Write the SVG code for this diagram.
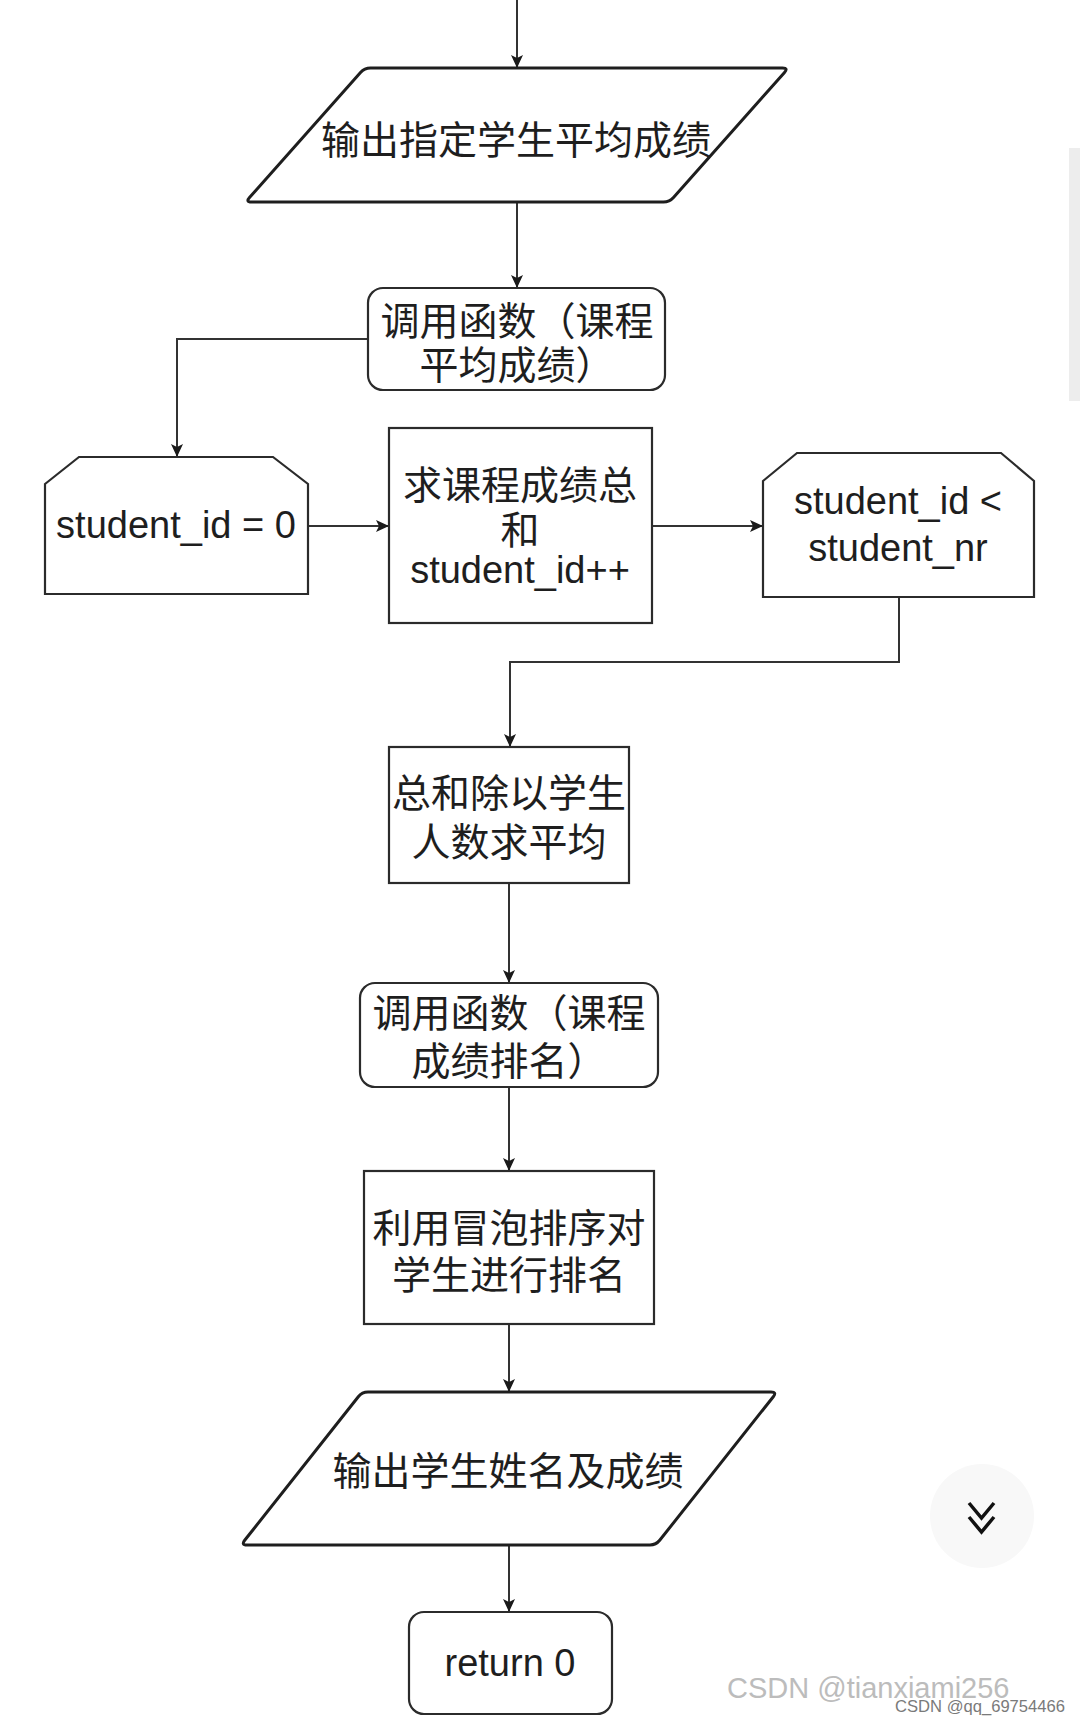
<svg xmlns="http://www.w3.org/2000/svg" width="1080" height="1724" viewBox="0 0 1080 1724">
<defs>
<style>
.node{fill:#fff;stroke:#2b2b2b;stroke-width:2.2}
.para{fill:#fff;stroke:#1e1e1e;stroke-width:3}
.edge{fill:none;stroke:#333;stroke-width:2}
.cjk{font-family:"Noto Sans CJK SC","Liberation Sans",sans-serif;font-size:39px;fill:#1e1e1e;text-anchor:middle;dominant-baseline:central}
.lat{font-family:"Liberation Sans","Noto Sans CJK SC",sans-serif;font-size:38px;fill:#1e1e1e;text-anchor:middle}
</style>
<marker id="arr" markerUnits="userSpaceOnUse" markerWidth="14" markerHeight="14" refX="13" refY="7" orient="auto">
<path d="M0,1 L13,7 L0,13 L3,7 Z" fill="#1a1a1a"/>
</marker>
</defs>
<rect width="1080" height="1724" fill="#fff"/>

<g id="connectors">
<path class="edge" d="M517,0 L517,68" marker-end="url(#arr)"/>
<path class="edge" d="M517,202 L517,288" marker-end="url(#arr)"/>
<path class="edge" d="M368,339 L177,339 L177,457" marker-end="url(#arr)"/>
<path class="edge" d="M308,526 L389,526" marker-end="url(#arr)"/>
<path class="edge" d="M652,526 L763,526" marker-end="url(#arr)"/>
<path class="edge" d="M899,597 L899,662 L510,662 L510,747" marker-end="url(#arr)"/>
<path class="edge" d="M509,883 L509,983" marker-end="url(#arr)"/>
<path class="edge" d="M509,1087 L509,1171" marker-end="url(#arr)"/>
<path class="edge" d="M509,1324 L509,1392" marker-end="url(#arr)"/>
<path class="edge" d="M509,1545 L509,1612" marker-end="url(#arr)"/>
</g>

<g id="node-output-avg">
<path class="para" d="M370.5,68 L782.5,68 Q788.5,68 784.5,72.5 L673.5,197.5 Q669.5,202 663.5,202 L251.5,202 Q245.5,202 249.5,197.5 L360.5,72.5 Q364.5,68 370.5,68 Z"/>
<text class="cjk" x="516" y="137">输出指定学生平均成绩</text>
</g>

<g id="node-call-avg">
<rect class="node" x="368" y="288" width="297" height="102" rx="15"/>
<text class="cjk" x="517" y="318">调用函数（课程</text>
<text class="cjk" x="517" y="362">平均成绩）</text>
</g>

<g id="node-init">
<path class="node" d="M45,484 L79,457 L273,457 L308,484 L308,594 L45,594 Z"/>
<text class="lat" x="176" y="538">student_id = 0</text>
</g>

<g id="node-sum">
<rect class="node" x="389" y="428" width="263" height="195"/>
<text class="cjk" x="520" y="482">求课程成绩总</text>
<text class="cjk" x="520" y="527">和</text>
<text class="lat" x="520" y="583">student_id++</text>
</g>

<g id="node-cond">
<path class="node" d="M763,481 L797,453 L1001,453 L1034,481 L1034,597 L763,597 Z"/>
<text class="lat" x="898" y="514">student_id &lt;</text>
<text class="lat" x="898" y="561">student_nr</text>
</g>

<g id="node-average">
<rect class="node" x="389" y="747" width="240" height="136"/>
<text class="cjk" x="509" y="790">总和除以学生</text>
<text class="cjk" x="509" y="839">人数求平均</text>
</g>

<g id="node-call-rank">
<rect class="node" x="360" y="983" width="298" height="104" rx="15"/>
<text class="cjk" x="509" y="1010">调用函数（课程</text>
<text class="cjk" x="509" y="1058">成绩排名）</text>
</g>

<g id="node-bubble">
<rect class="node" x="364" y="1171" width="290" height="153"/>
<text class="cjk" x="509" y="1225">利用冒泡排序对</text>
<text class="cjk" x="509" y="1272">学生进行排名</text>
</g>

<g id="node-output-rank">
<path class="para" d="M368,1392 L771,1392 Q777,1392 773.3,1396.7 L659.7,1540.3 Q656,1545 650,1545 L247,1545 Q241,1545 244.7,1540.3 L358.3,1396.7 Q362,1392 368,1392 Z"/>
<text class="cjk" x="508" y="1468">输出学生姓名及成绩</text>
</g>

<g id="node-return">
<rect class="node" x="409" y="1612" width="203" height="102" rx="15"/>
<text class="lat" x="510" y="1676">return 0</text>
</g>

<rect x="1069" y="148" width="11" height="253" fill="#ededed"/>
<circle cx="982" cy="1516" r="52" fill="#f8f8f8"/>
<polyline points="969,1503 981.5,1518 994,1503" fill="none" stroke="#111" stroke-width="3.5"/>
<polyline points="969,1517 981.5,1532 994,1517" fill="none" stroke="#111" stroke-width="3.5"/>
<text x="727" y="1698" font-family="Liberation Sans, sans-serif" font-size="29" fill="#bcbcbc">CSDN @tianxiami256</text>
<text x="895" y="1712" font-family="Liberation Sans, sans-serif" font-size="16.6" fill="#7a7a7a">CSDN @qq_69754466</text>
</svg>
